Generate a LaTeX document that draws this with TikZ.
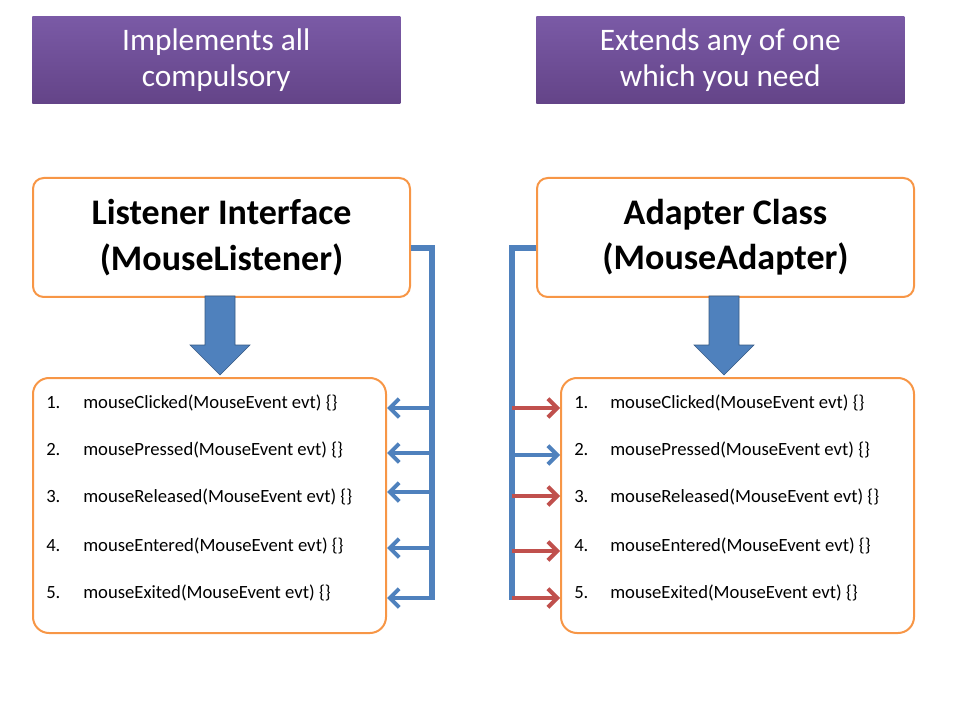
\documentclass[tikz,border=0pt]{standalone}
\usepackage{fontspec}
\setmainfont{Carlito}
\usetikzlibrary{arrows.meta, positioning}
\definecolor{topic}{HTML}{7A5AA6}
\definecolor{topicdark}{HTML}{644488}
\definecolor{frame}{HTML}{F79646}
\definecolor{link}{HTML}{4F81BD}
\definecolor{pick}{HTML}{C0504D}
\tikzset{
    heading/.style={minimum width=276pt, minimum height=65.25pt, anchor=north west, inner sep=0pt,
        top color=topic, bottom color=topicdark, text=white, align=center,
        font=\fontsize{23.5}{27}\selectfont},
    title/.style={draw=frame, line width=1.5pt, rounded corners=8pt, anchor=north west,
        minimum width=282.75pt, minimum height=89.25pt, inner sep=0pt, align=center,
        font=\fontsize{27}{34}\selectfont\bfseries},
    list/.style={draw=frame, line width=1.5pt, rounded corners=12pt, anchor=north west,
        minimum width=264.75pt, minimum height=191.25pt, inner sep=0pt},
    item/.style={anchor=west, inner sep=0pt, font=\fontsize{14}{16}\selectfont},
    bar/.style={link, line width=4pt},
    tip/.style={line width=3pt, -{Straight Barb[length=7pt, width=14pt, line width=3pt]}},
    down/.style={fill=link, draw=link!70!black}
}
\begin{document}
\begin{tikzpicture}[x=0.75pt, y=-0.75pt]
    \useasboundingbox (0, 0) rectangle (960, 720);

    \node[heading] (hl) at (32, 16) {Implements all\\compulsory};
    \node[heading] (hr) at (536, 16) {Extends any of one\\which you need};

    \node[title] (il) at (32, 177) {Listener Interface\\(MouseListener)};
    \node[title] (ar) at (536, 177) {Adapter Class\\(MouseAdapter)};

    \node[list] (ll) at (32, 377) {};
    \node[list] (lr) at (560, 377) {};

    % method lists
    \foreach \n/\y/\m in {1/403/Clicked, 2/450/Pressed, 3/497/Released, 4/546/Entered, 5/593/Exited} {
        \node[item] (nl\n) at (46, \y) {\n.};
        \node[item] (ml\n) at (83, \y) {mouse\m(MouseEvent evt) \{\}};
        \node[item] (nr\n) at (574, \y) {\n.};
        \node[item] (mr\n) at (610, \y) {mouse\m(MouseEvent evt) \{\}};
    }

    % block arrows
    \draw[down] (205, 296) -- (235, 296) -- (235, 345) -- (250, 345) -- (220, 375)
        -- (190, 345) -- (205, 345) -- cycle;
    \draw[down] (709, 296) -- (739, 296) -- (739, 345) -- (754, 345) -- (724, 375)
        -- (694, 345) -- (709, 345) -- cycle;

    % left bracket
    \coordinate (lt) at (432, 248);
    \coordinate (lb) at (432, 600);
    \draw[bar] (il.east |- lt) -- (lt) -- (lb);
    \foreach \y in {408, 453, 492, 548, 598}
        \draw[tip, link] (432, \y) -- (ll.east |- 0, \y);

    % right bracket
    \coordinate (rt) at (512, 248);
    \coordinate (rb) at (512, 600);
    \draw[bar] (ar.west |- rt) -- (rt) -- (rb);
    \foreach \y/\c in {408/pick, 455/link, 496/pick, 551/pick, 598/pick}
        \draw[tip, \c] (512, \y) -- (lr.west |- 0, \y);
\end{tikzpicture}
\end{document}
